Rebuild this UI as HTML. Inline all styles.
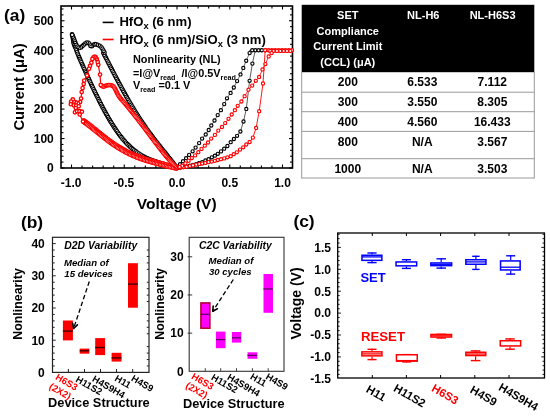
<!DOCTYPE html>
<html><head><meta charset="utf-8"><style>
html,body{margin:0;padding:0;background:#fff;overflow:hidden;}
svg{display:block;font-family:"Liberation Sans", sans-serif;will-change:transform;}
</style></head><body>
<svg width="550" height="418" viewBox="0 0 550 418">
<rect x="0" y="0" width="550" height="418" fill="#fff"/>
<rect x="61.00" y="6.00" width="231.50" height="162.00" fill="none" stroke="#000" stroke-width="1.6" />
<line x1="71.50" y1="168.00" x2="71.50" y2="164.50" stroke="#000" stroke-width="1.1" />
<line x1="71.50" y1="6.00" x2="71.50" y2="9.50" stroke="#000" stroke-width="1.1" />
<line x1="82.05" y1="168.00" x2="82.05" y2="165.50" stroke="#000" stroke-width="1.1" />
<line x1="82.05" y1="6.00" x2="82.05" y2="8.50" stroke="#000" stroke-width="1.1" />
<line x1="92.60" y1="168.00" x2="92.60" y2="165.50" stroke="#000" stroke-width="1.1" />
<line x1="92.60" y1="6.00" x2="92.60" y2="8.50" stroke="#000" stroke-width="1.1" />
<line x1="103.15" y1="168.00" x2="103.15" y2="165.50" stroke="#000" stroke-width="1.1" />
<line x1="103.15" y1="6.00" x2="103.15" y2="8.50" stroke="#000" stroke-width="1.1" />
<line x1="113.70" y1="168.00" x2="113.70" y2="165.50" stroke="#000" stroke-width="1.1" />
<line x1="113.70" y1="6.00" x2="113.70" y2="8.50" stroke="#000" stroke-width="1.1" />
<line x1="124.25" y1="168.00" x2="124.25" y2="164.50" stroke="#000" stroke-width="1.1" />
<line x1="124.25" y1="6.00" x2="124.25" y2="9.50" stroke="#000" stroke-width="1.1" />
<line x1="134.80" y1="168.00" x2="134.80" y2="165.50" stroke="#000" stroke-width="1.1" />
<line x1="134.80" y1="6.00" x2="134.80" y2="8.50" stroke="#000" stroke-width="1.1" />
<line x1="145.35" y1="168.00" x2="145.35" y2="165.50" stroke="#000" stroke-width="1.1" />
<line x1="145.35" y1="6.00" x2="145.35" y2="8.50" stroke="#000" stroke-width="1.1" />
<line x1="155.90" y1="168.00" x2="155.90" y2="165.50" stroke="#000" stroke-width="1.1" />
<line x1="155.90" y1="6.00" x2="155.90" y2="8.50" stroke="#000" stroke-width="1.1" />
<line x1="166.45" y1="168.00" x2="166.45" y2="165.50" stroke="#000" stroke-width="1.1" />
<line x1="166.45" y1="6.00" x2="166.45" y2="8.50" stroke="#000" stroke-width="1.1" />
<line x1="177.00" y1="168.00" x2="177.00" y2="164.50" stroke="#000" stroke-width="1.1" />
<line x1="177.00" y1="6.00" x2="177.00" y2="9.50" stroke="#000" stroke-width="1.1" />
<line x1="187.55" y1="168.00" x2="187.55" y2="165.50" stroke="#000" stroke-width="1.1" />
<line x1="187.55" y1="6.00" x2="187.55" y2="8.50" stroke="#000" stroke-width="1.1" />
<line x1="198.10" y1="168.00" x2="198.10" y2="165.50" stroke="#000" stroke-width="1.1" />
<line x1="198.10" y1="6.00" x2="198.10" y2="8.50" stroke="#000" stroke-width="1.1" />
<line x1="208.65" y1="168.00" x2="208.65" y2="165.50" stroke="#000" stroke-width="1.1" />
<line x1="208.65" y1="6.00" x2="208.65" y2="8.50" stroke="#000" stroke-width="1.1" />
<line x1="219.20" y1="168.00" x2="219.20" y2="165.50" stroke="#000" stroke-width="1.1" />
<line x1="219.20" y1="6.00" x2="219.20" y2="8.50" stroke="#000" stroke-width="1.1" />
<line x1="229.75" y1="168.00" x2="229.75" y2="164.50" stroke="#000" stroke-width="1.1" />
<line x1="229.75" y1="6.00" x2="229.75" y2="9.50" stroke="#000" stroke-width="1.1" />
<line x1="240.30" y1="168.00" x2="240.30" y2="165.50" stroke="#000" stroke-width="1.1" />
<line x1="240.30" y1="6.00" x2="240.30" y2="8.50" stroke="#000" stroke-width="1.1" />
<line x1="250.85" y1="168.00" x2="250.85" y2="165.50" stroke="#000" stroke-width="1.1" />
<line x1="250.85" y1="6.00" x2="250.85" y2="8.50" stroke="#000" stroke-width="1.1" />
<line x1="261.40" y1="168.00" x2="261.40" y2="165.50" stroke="#000" stroke-width="1.1" />
<line x1="261.40" y1="6.00" x2="261.40" y2="8.50" stroke="#000" stroke-width="1.1" />
<line x1="271.95" y1="168.00" x2="271.95" y2="165.50" stroke="#000" stroke-width="1.1" />
<line x1="271.95" y1="6.00" x2="271.95" y2="8.50" stroke="#000" stroke-width="1.1" />
<line x1="282.50" y1="168.00" x2="282.50" y2="164.50" stroke="#000" stroke-width="1.1" />
<line x1="282.50" y1="6.00" x2="282.50" y2="9.50" stroke="#000" stroke-width="1.1" />
<line x1="61.00" y1="168.00" x2="64.50" y2="168.00" stroke="#000" stroke-width="1.1" />
<line x1="292.50" y1="168.00" x2="289.00" y2="168.00" stroke="#000" stroke-width="1.1" />
<line x1="61.00" y1="162.11" x2="63.50" y2="162.11" stroke="#000" stroke-width="1.1" />
<line x1="292.50" y1="162.11" x2="290.00" y2="162.11" stroke="#000" stroke-width="1.1" />
<line x1="61.00" y1="156.22" x2="63.50" y2="156.22" stroke="#000" stroke-width="1.1" />
<line x1="292.50" y1="156.22" x2="290.00" y2="156.22" stroke="#000" stroke-width="1.1" />
<line x1="61.00" y1="150.33" x2="63.50" y2="150.33" stroke="#000" stroke-width="1.1" />
<line x1="292.50" y1="150.33" x2="290.00" y2="150.33" stroke="#000" stroke-width="1.1" />
<line x1="61.00" y1="144.44" x2="63.50" y2="144.44" stroke="#000" stroke-width="1.1" />
<line x1="292.50" y1="144.44" x2="290.00" y2="144.44" stroke="#000" stroke-width="1.1" />
<line x1="61.00" y1="138.55" x2="64.50" y2="138.55" stroke="#000" stroke-width="1.1" />
<line x1="292.50" y1="138.55" x2="289.00" y2="138.55" stroke="#000" stroke-width="1.1" />
<line x1="61.00" y1="132.66" x2="63.50" y2="132.66" stroke="#000" stroke-width="1.1" />
<line x1="292.50" y1="132.66" x2="290.00" y2="132.66" stroke="#000" stroke-width="1.1" />
<line x1="61.00" y1="126.77" x2="63.50" y2="126.77" stroke="#000" stroke-width="1.1" />
<line x1="292.50" y1="126.77" x2="290.00" y2="126.77" stroke="#000" stroke-width="1.1" />
<line x1="61.00" y1="120.88" x2="63.50" y2="120.88" stroke="#000" stroke-width="1.1" />
<line x1="292.50" y1="120.88" x2="290.00" y2="120.88" stroke="#000" stroke-width="1.1" />
<line x1="61.00" y1="114.99" x2="63.50" y2="114.99" stroke="#000" stroke-width="1.1" />
<line x1="292.50" y1="114.99" x2="290.00" y2="114.99" stroke="#000" stroke-width="1.1" />
<line x1="61.00" y1="109.10" x2="64.50" y2="109.10" stroke="#000" stroke-width="1.1" />
<line x1="292.50" y1="109.10" x2="289.00" y2="109.10" stroke="#000" stroke-width="1.1" />
<line x1="61.00" y1="103.21" x2="63.50" y2="103.21" stroke="#000" stroke-width="1.1" />
<line x1="292.50" y1="103.21" x2="290.00" y2="103.21" stroke="#000" stroke-width="1.1" />
<line x1="61.00" y1="97.32" x2="63.50" y2="97.32" stroke="#000" stroke-width="1.1" />
<line x1="292.50" y1="97.32" x2="290.00" y2="97.32" stroke="#000" stroke-width="1.1" />
<line x1="61.00" y1="91.43" x2="63.50" y2="91.43" stroke="#000" stroke-width="1.1" />
<line x1="292.50" y1="91.43" x2="290.00" y2="91.43" stroke="#000" stroke-width="1.1" />
<line x1="61.00" y1="85.54" x2="63.50" y2="85.54" stroke="#000" stroke-width="1.1" />
<line x1="292.50" y1="85.54" x2="290.00" y2="85.54" stroke="#000" stroke-width="1.1" />
<line x1="61.00" y1="79.65" x2="64.50" y2="79.65" stroke="#000" stroke-width="1.1" />
<line x1="292.50" y1="79.65" x2="289.00" y2="79.65" stroke="#000" stroke-width="1.1" />
<line x1="61.00" y1="73.76" x2="63.50" y2="73.76" stroke="#000" stroke-width="1.1" />
<line x1="292.50" y1="73.76" x2="290.00" y2="73.76" stroke="#000" stroke-width="1.1" />
<line x1="61.00" y1="67.87" x2="63.50" y2="67.87" stroke="#000" stroke-width="1.1" />
<line x1="292.50" y1="67.87" x2="290.00" y2="67.87" stroke="#000" stroke-width="1.1" />
<line x1="61.00" y1="61.98" x2="63.50" y2="61.98" stroke="#000" stroke-width="1.1" />
<line x1="292.50" y1="61.98" x2="290.00" y2="61.98" stroke="#000" stroke-width="1.1" />
<line x1="61.00" y1="56.09" x2="63.50" y2="56.09" stroke="#000" stroke-width="1.1" />
<line x1="292.50" y1="56.09" x2="290.00" y2="56.09" stroke="#000" stroke-width="1.1" />
<line x1="61.00" y1="50.20" x2="64.50" y2="50.20" stroke="#000" stroke-width="1.1" />
<line x1="292.50" y1="50.20" x2="289.00" y2="50.20" stroke="#000" stroke-width="1.1" />
<line x1="61.00" y1="44.31" x2="63.50" y2="44.31" stroke="#000" stroke-width="1.1" />
<line x1="292.50" y1="44.31" x2="290.00" y2="44.31" stroke="#000" stroke-width="1.1" />
<line x1="61.00" y1="38.42" x2="63.50" y2="38.42" stroke="#000" stroke-width="1.1" />
<line x1="292.50" y1="38.42" x2="290.00" y2="38.42" stroke="#000" stroke-width="1.1" />
<line x1="61.00" y1="32.53" x2="63.50" y2="32.53" stroke="#000" stroke-width="1.1" />
<line x1="292.50" y1="32.53" x2="290.00" y2="32.53" stroke="#000" stroke-width="1.1" />
<line x1="61.00" y1="26.64" x2="63.50" y2="26.64" stroke="#000" stroke-width="1.1" />
<line x1="292.50" y1="26.64" x2="290.00" y2="26.64" stroke="#000" stroke-width="1.1" />
<line x1="61.00" y1="20.75" x2="64.50" y2="20.75" stroke="#000" stroke-width="1.1" />
<line x1="292.50" y1="20.75" x2="289.00" y2="20.75" stroke="#000" stroke-width="1.1" />
<line x1="61.00" y1="14.86" x2="63.50" y2="14.86" stroke="#000" stroke-width="1.1" />
<line x1="292.50" y1="14.86" x2="290.00" y2="14.86" stroke="#000" stroke-width="1.1" />
<line x1="61.00" y1="8.97" x2="63.50" y2="8.97" stroke="#000" stroke-width="1.1" />
<line x1="292.50" y1="8.97" x2="290.00" y2="8.97" stroke="#000" stroke-width="1.1" />
<text x="53.80" y="172.30" font-size="12" font-weight="bold" text-anchor="end" fill="#000" >0</text>
<text x="53.80" y="142.85" font-size="12" font-weight="bold" text-anchor="end" fill="#000" >100</text>
<text x="53.80" y="113.40" font-size="12" font-weight="bold" text-anchor="end" fill="#000" >200</text>
<text x="53.80" y="83.95" font-size="12" font-weight="bold" text-anchor="end" fill="#000" >300</text>
<text x="53.80" y="54.50" font-size="12" font-weight="bold" text-anchor="end" fill="#000" >400</text>
<text x="53.80" y="25.05" font-size="12" font-weight="bold" text-anchor="end" fill="#000" >500</text>
<text x="71.20" y="186.60" font-size="12" font-weight="bold" text-anchor="middle" fill="#000" >-1.0</text>
<text x="123.95" y="186.60" font-size="12" font-weight="bold" text-anchor="middle" fill="#000" >-0.5</text>
<text x="177.00" y="186.60" font-size="12" font-weight="bold" text-anchor="middle" fill="#000" >0.0</text>
<text x="229.75" y="186.60" font-size="12" font-weight="bold" text-anchor="middle" fill="#000" >0.5</text>
<text x="282.50" y="186.60" font-size="12" font-weight="bold" text-anchor="middle" fill="#000" >1.0</text>
<text x="4.00" y="21.00" font-size="17.4" font-weight="bold" text-anchor="start" fill="#000" >(a)</text>
<text transform="translate(23.6,87) rotate(-90)" font-size="14.8" font-weight="bold" text-anchor="middle" fill="#000">Current (μA)</text>
<text x="176.70" y="209.10" font-size="15.5" font-weight="bold" text-anchor="middle" fill="#000" >Voltage (V)</text>
<line x1="102.70" y1="22.40" x2="113.60" y2="22.40" stroke="#000" stroke-width="1.6" />
<text x="119.4" y="25.8" font-size="13.1" font-weight="bold" fill="#000">HfO<tspan font-size="9.3" dy="3.2">x</tspan><tspan dy="-3.2"> (6 nm)</tspan></text>
<line x1="102.70" y1="39.50" x2="113.60" y2="39.50" stroke="#ff0000" stroke-width="1.6" />
<text x="119.4" y="43.6" font-size="13.1" font-weight="bold" fill="#000">HfO<tspan font-size="9.3" dy="3.2">x</tspan><tspan dy="-3.2"> (6 nm)/SiO</tspan><tspan font-size="9.3" dy="3.2">x</tspan><tspan dy="-3.2"> (3 nm)</tspan></text>
<text x="133" y="62.6" font-size="10.9" font-weight="bold" fill="#000">Nonlinearity (NL)</text>
<text x="133" y="77" font-size="10.9" font-weight="bold" fill="#000">=I@V<tspan font-size="7.2" dy="2.5">read</tspan><tspan dy="-2.5">&#160; /I@0.5V</tspan><tspan font-size="7.2" dy="2.5">read</tspan></text>
<text x="133" y="89" font-size="10.9" font-weight="bold" fill="#000">V<tspan font-size="7.2" dy="2.5">read</tspan><tspan dy="-2.5"> =0.1 V</tspan></text>
<g fill="#fff" stroke="#000000" stroke-width="1.15"><circle cx="72.00" cy="34.40" r="1.8"/><circle cx="72.49" cy="36.18" r="1.8"/><circle cx="72.83" cy="38.00" r="1.8"/><circle cx="73.13" cy="39.83" r="1.8"/><circle cx="73.39" cy="41.66" r="1.8"/><circle cx="73.70" cy="43.48" r="1.8"/><circle cx="74.30" cy="45.23" r="1.8"/><circle cx="75.06" cy="46.91" r="1.8"/><circle cx="75.83" cy="48.59" r="1.8"/><circle cx="76.43" cy="50.34" r="1.8"/><circle cx="77.03" cy="52.09" r="1.8"/><circle cx="77.72" cy="53.80" r="1.8"/><circle cx="78.41" cy="55.52" r="1.8"/><circle cx="79.12" cy="57.23" r="1.8"/><circle cx="79.84" cy="58.93" r="1.8"/><circle cx="80.58" cy="60.63" r="1.8"/><circle cx="81.32" cy="62.32" r="1.8"/><circle cx="82.07" cy="64.02" r="1.8"/><circle cx="82.81" cy="65.71" r="1.8"/><circle cx="83.56" cy="67.40" r="1.8"/><circle cx="84.31" cy="69.09" r="1.8"/><circle cx="85.06" cy="70.78" r="1.8"/><circle cx="85.82" cy="72.47" r="1.8"/><circle cx="86.57" cy="74.16" r="1.8"/><circle cx="87.34" cy="75.85" r="1.8"/><circle cx="88.10" cy="77.53" r="1.8"/><circle cx="88.87" cy="79.21" r="1.8"/><circle cx="89.64" cy="80.90" r="1.8"/><circle cx="90.42" cy="82.58" r="1.8"/><circle cx="91.20" cy="84.25" r="1.8"/><circle cx="91.98" cy="85.93" r="1.8"/><circle cx="92.77" cy="87.60" r="1.8"/><circle cx="93.57" cy="89.27" r="1.8"/><circle cx="94.37" cy="90.94" r="1.8"/><circle cx="95.17" cy="92.60" r="1.8"/><circle cx="95.99" cy="94.26" r="1.8"/><circle cx="96.81" cy="95.92" r="1.8"/><circle cx="97.63" cy="97.58" r="1.8"/><circle cx="98.46" cy="99.24" r="1.8"/><circle cx="99.28" cy="100.89" r="1.8"/><circle cx="100.11" cy="102.54" r="1.8"/><circle cx="100.95" cy="104.19" r="1.8"/><circle cx="101.80" cy="105.84" r="1.8"/><circle cx="102.66" cy="107.48" r="1.8"/><circle cx="103.53" cy="109.11" r="1.8"/><circle cx="104.40" cy="110.74" r="1.8"/><circle cx="105.29" cy="112.36" r="1.8"/><circle cx="106.18" cy="113.98" r="1.8"/><circle cx="107.09" cy="115.59" r="1.8"/><circle cx="108.01" cy="117.20" r="1.8"/><circle cx="108.94" cy="118.80" r="1.8"/><circle cx="109.89" cy="120.39" r="1.8"/><circle cx="110.84" cy="121.97" r="1.8"/><circle cx="111.82" cy="123.55" r="1.8"/><circle cx="112.80" cy="125.11" r="1.8"/><circle cx="113.80" cy="126.67" r="1.8"/><circle cx="114.82" cy="128.21" r="1.8"/><circle cx="115.86" cy="129.74" r="1.8"/><circle cx="116.91" cy="131.26" r="1.8"/><circle cx="117.98" cy="132.77" r="1.8"/><circle cx="119.07" cy="134.27" r="1.8"/><circle cx="120.18" cy="135.75" r="1.8"/><circle cx="121.32" cy="137.21" r="1.8"/><circle cx="122.47" cy="138.65" r="1.8"/><circle cx="123.65" cy="140.08" r="1.8"/><circle cx="124.87" cy="141.47" r="1.8"/><circle cx="126.12" cy="142.83" r="1.8"/><circle cx="127.41" cy="144.16" r="1.8"/><circle cx="128.73" cy="145.46" r="1.8"/><circle cx="130.07" cy="146.73" r="1.8"/><circle cx="131.45" cy="147.97" r="1.8"/><circle cx="132.85" cy="149.17" r="1.8"/><circle cx="134.29" cy="150.34" r="1.8"/><circle cx="135.76" cy="151.46" r="1.8"/><circle cx="137.26" cy="152.54" r="1.8"/><circle cx="138.79" cy="153.58" r="1.8"/><circle cx="140.35" cy="154.58" r="1.8"/><circle cx="141.94" cy="155.52" r="1.8"/><circle cx="143.55" cy="156.42" r="1.8"/><circle cx="145.20" cy="157.27" r="1.8"/><circle cx="146.87" cy="158.07" r="1.8"/><circle cx="148.55" cy="158.83" r="1.8"/><circle cx="150.26" cy="159.54" r="1.8"/><circle cx="151.99" cy="160.21" r="1.8"/><circle cx="153.72" cy="160.84" r="1.8"/><circle cx="155.47" cy="161.45" r="1.8"/><circle cx="157.23" cy="162.03" r="1.8"/><circle cx="158.99" cy="162.59" r="1.8"/><circle cx="160.76" cy="163.14" r="1.8"/><circle cx="162.53" cy="163.68" r="1.8"/><circle cx="164.29" cy="164.23" r="1.8"/><circle cx="166.05" cy="164.80" r="1.8"/><circle cx="167.85" cy="165.23" r="1.8"/><circle cx="169.65" cy="165.65" r="1.8"/><circle cx="171.44" cy="166.12" r="1.8"/><circle cx="173.22" cy="166.64" r="1.8"/><circle cx="174.97" cy="167.22" r="1.8"/><circle cx="176.70" cy="167.88" r="1.8"/></g>
<g fill="#fff" stroke="#000000" stroke-width="1.15"><circle cx="177.00" cy="168.00" r="1.8"/><circle cx="175.89" cy="166.52" r="1.8"/><circle cx="174.78" cy="165.04" r="1.8"/><circle cx="173.66" cy="163.57" r="1.8"/><circle cx="172.52" cy="162.11" r="1.8"/><circle cx="171.38" cy="160.65" r="1.8"/><circle cx="170.24" cy="159.20" r="1.8"/><circle cx="169.09" cy="157.75" r="1.8"/><circle cx="167.93" cy="156.31" r="1.8"/><circle cx="166.77" cy="154.86" r="1.8"/><circle cx="165.61" cy="153.42" r="1.8"/><circle cx="164.45" cy="151.98" r="1.8"/><circle cx="163.29" cy="150.54" r="1.8"/><circle cx="162.13" cy="149.10" r="1.8"/><circle cx="160.98" cy="147.65" r="1.8"/><circle cx="159.82" cy="146.21" r="1.8"/><circle cx="158.67" cy="144.76" r="1.8"/><circle cx="157.53" cy="143.31" r="1.8"/><circle cx="156.39" cy="141.85" r="1.8"/><circle cx="155.25" cy="140.39" r="1.8"/><circle cx="154.13" cy="138.92" r="1.8"/><circle cx="153.00" cy="137.45" r="1.8"/><circle cx="151.89" cy="135.97" r="1.8"/><circle cx="150.79" cy="134.49" r="1.8"/><circle cx="149.69" cy="133.00" r="1.8"/><circle cx="148.60" cy="131.50" r="1.8"/><circle cx="147.52" cy="130.00" r="1.8"/><circle cx="146.44" cy="128.50" r="1.8"/><circle cx="145.38" cy="126.98" r="1.8"/><circle cx="144.33" cy="125.46" r="1.8"/><circle cx="143.28" cy="123.94" r="1.8"/><circle cx="142.24" cy="122.40" r="1.8"/><circle cx="141.21" cy="120.87" r="1.8"/><circle cx="140.19" cy="119.32" r="1.8"/><circle cx="139.18" cy="117.77" r="1.8"/><circle cx="138.18" cy="116.22" r="1.8"/><circle cx="137.19" cy="114.66" r="1.8"/><circle cx="136.20" cy="113.09" r="1.8"/><circle cx="135.22" cy="111.52" r="1.8"/><circle cx="134.25" cy="109.95" r="1.8"/><circle cx="133.29" cy="108.37" r="1.8"/><circle cx="132.34" cy="106.78" r="1.8"/><circle cx="131.39" cy="105.20" r="1.8"/><circle cx="130.45" cy="103.60" r="1.8"/><circle cx="129.51" cy="102.01" r="1.8"/><circle cx="128.58" cy="100.40" r="1.8"/><circle cx="127.66" cy="98.80" r="1.8"/><circle cx="126.75" cy="97.19" r="1.8"/><circle cx="125.84" cy="95.58" r="1.8"/><circle cx="124.94" cy="93.97" r="1.8"/><circle cx="124.04" cy="92.35" r="1.8"/><circle cx="123.14" cy="90.73" r="1.8"/><circle cx="122.25" cy="89.11" r="1.8"/><circle cx="121.37" cy="87.48" r="1.8"/><circle cx="120.49" cy="85.85" r="1.8"/><circle cx="119.62" cy="84.23" r="1.8"/><circle cx="118.74" cy="82.59" r="1.8"/><circle cx="117.87" cy="80.96" r="1.8"/><circle cx="117.01" cy="79.32" r="1.8"/><circle cx="116.15" cy="77.69" r="1.8"/><circle cx="115.29" cy="76.05" r="1.8"/><circle cx="114.43" cy="74.41" r="1.8"/><circle cx="113.58" cy="72.77" r="1.8"/><circle cx="112.72" cy="71.13" r="1.8"/><circle cx="111.87" cy="69.49" r="1.8"/><circle cx="111.02" cy="67.84" r="1.8"/><circle cx="110.17" cy="66.20" r="1.8"/><circle cx="109.32" cy="64.56" r="1.8"/><circle cx="108.47" cy="62.91" r="1.8"/><circle cx="107.63" cy="61.27" r="1.8"/><circle cx="106.78" cy="59.62" r="1.8"/><circle cx="105.93" cy="57.98" r="1.8"/><circle cx="105.08" cy="56.34" r="1.8"/><circle cx="104.23" cy="54.69" r="1.8"/><circle cx="103.37" cy="53.05" r="1.8"/></g>
<g fill="#fff" stroke="#000000" stroke-width="1.15"><circle cx="104.50" cy="52.60" r="1.75"/><circle cx="103.60" cy="50.93" r="1.75"/><circle cx="102.67" cy="49.27" r="1.75"/><circle cx="101.63" cy="47.68" r="1.75"/><circle cx="100.35" cy="46.28" r="1.75"/><circle cx="98.70" cy="45.35" r="1.75"/><circle cx="96.93" cy="44.67" r="1.75"/><circle cx="95.10" cy="44.19" r="1.75"/><circle cx="93.34" cy="44.84" r="1.75"/><circle cx="91.96" cy="46.13" r="1.75"/><circle cx="90.55" cy="45.94" r="1.75"/><circle cx="89.65" cy="44.28" r="1.75"/><circle cx="88.57" cy="42.76" r="1.75"/><circle cx="86.77" cy="42.56" r="1.75"/><circle cx="85.20" cy="43.62" r="1.75"/><circle cx="83.76" cy="44.86" r="1.75"/><circle cx="82.35" cy="46.13" r="1.75"/><circle cx="80.95" cy="47.42" r="1.75"/><circle cx="79.24" cy="47.98" r="1.75"/><circle cx="77.75" cy="46.85" r="1.75"/><circle cx="76.55" cy="45.38" r="1.75"/><circle cx="75.71" cy="43.68" r="1.75"/><circle cx="75.06" cy="41.89" r="1.75"/><circle cx="74.43" cy="40.10" r="1.75"/><circle cx="73.76" cy="38.32" r="1.75"/><circle cx="73.03" cy="36.57" r="1.75"/><circle cx="72.22" cy="34.85" r="1.75"/></g>
<g fill="#fff" stroke="#ff0000" stroke-width="1.15"><circle cx="83.63" cy="120.32" r="1.75"/><circle cx="84.86" cy="121.18" r="1.75"/><circle cx="86.08" cy="122.05" r="1.75"/><circle cx="87.29" cy="122.94" r="1.75"/><circle cx="88.49" cy="123.84" r="1.75"/><circle cx="89.68" cy="124.75" r="1.75"/><circle cx="90.87" cy="125.67" r="1.75"/><circle cx="92.05" cy="126.59" r="1.75"/><circle cx="93.23" cy="127.52" r="1.75"/><circle cx="94.40" cy="128.45" r="1.75"/><circle cx="95.58" cy="129.39" r="1.75"/><circle cx="96.75" cy="130.33" r="1.75"/><circle cx="97.91" cy="131.27" r="1.75"/><circle cx="99.08" cy="132.21" r="1.75"/><circle cx="100.25" cy="133.15" r="1.75"/><circle cx="101.42" cy="134.09" r="1.75"/><circle cx="102.59" cy="135.03" r="1.75"/><circle cx="103.76" cy="135.96" r="1.75"/><circle cx="104.94" cy="136.89" r="1.75"/><circle cx="106.12" cy="137.82" r="1.75"/><circle cx="107.30" cy="138.75" r="1.75"/><circle cx="108.48" cy="139.66" r="1.75"/><circle cx="109.68" cy="140.57" r="1.75"/><circle cx="110.91" cy="141.43" r="1.75"/><circle cx="112.15" cy="142.28" r="1.75"/><circle cx="113.39" cy="143.12" r="1.75"/><circle cx="114.64" cy="143.95" r="1.75"/><circle cx="115.89" cy="144.77" r="1.75"/><circle cx="117.15" cy="145.58" r="1.75"/><circle cx="118.43" cy="146.38" r="1.75"/><circle cx="119.70" cy="147.16" r="1.75"/><circle cx="120.99" cy="147.93" r="1.75"/><circle cx="122.29" cy="148.69" r="1.75"/><circle cx="123.59" cy="149.43" r="1.75"/><circle cx="124.91" cy="150.15" r="1.75"/><circle cx="126.23" cy="150.86" r="1.75"/><circle cx="127.56" cy="151.55" r="1.75"/><circle cx="128.90" cy="152.22" r="1.75"/><circle cx="130.25" cy="152.88" r="1.75"/><circle cx="131.61" cy="153.51" r="1.75"/><circle cx="132.98" cy="154.13" r="1.75"/><circle cx="134.35" cy="154.73" r="1.75"/><circle cx="135.74" cy="155.31" r="1.75"/><circle cx="137.13" cy="155.86" r="1.75"/><circle cx="138.53" cy="156.40" r="1.75"/><circle cx="139.93" cy="156.93" r="1.75"/><circle cx="141.35" cy="157.43" r="1.75"/><circle cx="142.77" cy="157.92" r="1.75"/><circle cx="144.19" cy="158.39" r="1.75"/><circle cx="145.62" cy="158.84" r="1.75"/><circle cx="147.06" cy="159.28" r="1.75"/><circle cx="148.49" cy="159.70" r="1.75"/><circle cx="149.94" cy="160.11" r="1.75"/><circle cx="151.38" cy="160.52" r="1.75"/><circle cx="152.83" cy="160.91" r="1.75"/><circle cx="154.28" cy="161.30" r="1.75"/><circle cx="155.73" cy="161.68" r="1.75"/><circle cx="157.18" cy="162.06" r="1.75"/><circle cx="158.63" cy="162.45" r="1.75"/><circle cx="160.08" cy="162.83" r="1.75"/><circle cx="161.53" cy="163.22" r="1.75"/><circle cx="162.97" cy="163.62" r="1.75"/><circle cx="164.42" cy="164.02" r="1.75"/><circle cx="165.86" cy="164.45" r="1.75"/><circle cx="167.32" cy="164.77" r="1.75"/><circle cx="168.80" cy="165.04" r="1.75"/><circle cx="170.27" cy="165.33" r="1.75"/><circle cx="171.73" cy="165.64" r="1.75"/><circle cx="173.19" cy="166.00" r="1.75"/><circle cx="174.64" cy="166.38" r="1.75"/><circle cx="176.08" cy="166.81" r="1.75"/></g>
<g fill="#fff" stroke="#ff0000" stroke-width="1.15"><circle cx="83.63" cy="122.12" r="1.75"/><circle cx="84.86" cy="122.98" r="1.75"/><circle cx="86.08" cy="123.85" r="1.75"/><circle cx="87.29" cy="124.74" r="1.75"/><circle cx="88.49" cy="125.64" r="1.75"/><circle cx="89.68" cy="126.55" r="1.75"/><circle cx="90.87" cy="127.47" r="1.75"/><circle cx="92.05" cy="128.39" r="1.75"/><circle cx="93.23" cy="129.32" r="1.75"/><circle cx="94.40" cy="130.25" r="1.75"/><circle cx="95.58" cy="131.19" r="1.75"/><circle cx="96.75" cy="132.13" r="1.75"/><circle cx="97.91" cy="133.07" r="1.75"/><circle cx="99.08" cy="134.01" r="1.75"/><circle cx="100.25" cy="134.95" r="1.75"/><circle cx="101.42" cy="135.89" r="1.75"/><circle cx="102.59" cy="136.83" r="1.75"/><circle cx="103.76" cy="137.76" r="1.75"/><circle cx="104.94" cy="138.69" r="1.75"/><circle cx="106.12" cy="139.62" r="1.75"/><circle cx="107.30" cy="140.55" r="1.75"/><circle cx="108.48" cy="141.46" r="1.75"/><circle cx="109.68" cy="142.37" r="1.75"/><circle cx="110.91" cy="143.23" r="1.75"/><circle cx="112.15" cy="144.08" r="1.75"/><circle cx="113.39" cy="144.92" r="1.75"/><circle cx="114.64" cy="145.75" r="1.75"/><circle cx="115.89" cy="146.57" r="1.75"/><circle cx="117.15" cy="147.38" r="1.75"/><circle cx="118.43" cy="148.18" r="1.75"/><circle cx="119.70" cy="148.96" r="1.75"/><circle cx="120.99" cy="149.73" r="1.75"/><circle cx="122.29" cy="150.49" r="1.75"/><circle cx="123.59" cy="151.23" r="1.75"/><circle cx="124.91" cy="151.95" r="1.75"/><circle cx="126.23" cy="152.66" r="1.75"/><circle cx="127.56" cy="153.35" r="1.75"/><circle cx="128.90" cy="154.02" r="1.75"/><circle cx="130.25" cy="154.68" r="1.75"/><circle cx="131.61" cy="155.31" r="1.75"/><circle cx="132.98" cy="155.93" r="1.75"/><circle cx="134.35" cy="156.53" r="1.75"/><circle cx="135.74" cy="157.11" r="1.75"/><circle cx="137.13" cy="157.66" r="1.75"/><circle cx="138.53" cy="158.20" r="1.75"/><circle cx="139.93" cy="158.73" r="1.75"/><circle cx="141.35" cy="159.23" r="1.75"/><circle cx="142.77" cy="159.72" r="1.75"/><circle cx="144.19" cy="160.19" r="1.75"/><circle cx="145.62" cy="160.64" r="1.75"/><circle cx="147.06" cy="161.08" r="1.75"/><circle cx="148.49" cy="161.50" r="1.75"/><circle cx="149.94" cy="161.91" r="1.75"/><circle cx="151.38" cy="162.32" r="1.75"/><circle cx="152.83" cy="162.71" r="1.75"/><circle cx="154.28" cy="163.10" r="1.75"/><circle cx="155.73" cy="163.48" r="1.75"/><circle cx="157.18" cy="163.86" r="1.75"/><circle cx="158.63" cy="164.25" r="1.75"/><circle cx="160.08" cy="164.63" r="1.75"/><circle cx="161.53" cy="165.02" r="1.75"/><circle cx="162.97" cy="165.42" r="1.75"/><circle cx="164.42" cy="165.82" r="1.75"/><circle cx="165.86" cy="166.25" r="1.75"/><circle cx="167.32" cy="166.57" r="1.75"/><circle cx="168.80" cy="166.84" r="1.75"/><circle cx="170.27" cy="167.13" r="1.75"/><circle cx="171.73" cy="167.44" r="1.75"/><circle cx="173.19" cy="167.80" r="1.75"/><circle cx="174.64" cy="168.18" r="1.75"/><circle cx="176.08" cy="168.61" r="1.75"/></g>
<g fill="#fff" stroke="#ff0000" stroke-width="1.15"><circle cx="177.00" cy="168.00" r="1.75"/><circle cx="175.91" cy="166.97" r="1.75"/><circle cx="174.83" cy="165.93" r="1.75"/><circle cx="173.78" cy="164.86" r="1.75"/><circle cx="172.74" cy="163.78" r="1.75"/><circle cx="171.71" cy="162.68" r="1.75"/><circle cx="170.70" cy="161.58" r="1.75"/><circle cx="169.70" cy="160.46" r="1.75"/><circle cx="168.71" cy="159.33" r="1.75"/><circle cx="167.73" cy="158.19" r="1.75"/><circle cx="166.77" cy="157.05" r="1.75"/><circle cx="165.81" cy="155.89" r="1.75"/><circle cx="164.85" cy="154.74" r="1.75"/><circle cx="163.91" cy="153.57" r="1.75"/><circle cx="162.97" cy="152.40" r="1.75"/><circle cx="162.04" cy="151.23" r="1.75"/><circle cx="161.11" cy="150.05" r="1.75"/><circle cx="160.18" cy="148.87" r="1.75"/><circle cx="159.26" cy="147.68" r="1.75"/><circle cx="158.35" cy="146.50" r="1.75"/><circle cx="157.43" cy="145.31" r="1.75"/><circle cx="156.52" cy="144.11" r="1.75"/><circle cx="155.61" cy="142.92" r="1.75"/><circle cx="154.71" cy="141.72" r="1.75"/><circle cx="153.80" cy="140.53" r="1.75"/><circle cx="152.90" cy="139.33" r="1.75"/><circle cx="152.00" cy="138.13" r="1.75"/><circle cx="151.10" cy="136.93" r="1.75"/><circle cx="150.19" cy="135.74" r="1.75"/><circle cx="149.29" cy="134.54" r="1.75"/><circle cx="148.39" cy="133.34" r="1.75"/><circle cx="147.49" cy="132.14" r="1.75"/><circle cx="146.58" cy="130.94" r="1.75"/><circle cx="145.68" cy="129.75" r="1.75"/><circle cx="144.77" cy="128.55" r="1.75"/><circle cx="143.87" cy="127.36" r="1.75"/><circle cx="142.96" cy="126.16" r="1.75"/><circle cx="142.05" cy="124.97" r="1.75"/><circle cx="141.14" cy="123.78" r="1.75"/><circle cx="140.22" cy="122.59" r="1.75"/><circle cx="139.31" cy="121.40" r="1.75"/><circle cx="138.39" cy="120.22" r="1.75"/><circle cx="137.46" cy="119.03" r="1.75"/><circle cx="136.54" cy="117.85" r="1.75"/><circle cx="135.61" cy="116.67" r="1.75"/><circle cx="134.68" cy="115.50" r="1.75"/><circle cx="133.75" cy="114.32" r="1.75"/><circle cx="132.81" cy="113.15" r="1.75"/><circle cx="131.87" cy="111.98" r="1.75"/><circle cx="130.93" cy="110.81" r="1.75"/><circle cx="129.99" cy="109.65" r="1.75"/><circle cx="129.04" cy="108.49" r="1.75"/><circle cx="128.08" cy="107.33" r="1.75"/><circle cx="127.13" cy="106.17" r="1.75"/><circle cx="126.17" cy="105.02" r="1.75"/><circle cx="125.21" cy="103.87" r="1.75"/><circle cx="124.24" cy="102.72" r="1.75"/><circle cx="123.27" cy="101.57" r="1.75"/><circle cx="122.30" cy="100.43" r="1.75"/><circle cx="121.33" cy="99.29" r="1.75"/></g>
<polyline points="120.80,98.70 118.30,95.40 116.80,92.50 115.00,88.60 113.20,86.00 110.40,85.00 106.80,85.30 103.20,86.80 100.70,85.00 100.00,74.60 98.30,64.80 97.70,61.90 96.80,59.00 95.80,57.40 94.70,56.60 93.50,57.40 92.40,58.90 91.40,62.70 90.00,65.90 89.00,68.80 87.10,75.40 84.20,80.60 83.70,84.00 82.60,88.00 81.70,92.00 81.10,98.50 80.10,102.00 78.10,103.40 75.80,102.40 73.80,101.50 72.80,99.40 71.10,101.50 70.80,104.20 73.80,105.30 76.20,105.60 78.70,106.30 75.80,108.00 74.90,112.30 77.10,111.20 79.50,111.20 81.90,111.70 79.70,114.40 83.00,121.40" fill="none" stroke="#ff0000" stroke-width="1.2" stroke-linejoin="round" stroke-linecap="round" />
<g fill="#fff" stroke="#ff0000" stroke-width="1.15"><circle cx="120.80" cy="98.70" r="1.75"/><circle cx="120.01" cy="97.66" r="1.75"/><circle cx="119.23" cy="96.63" r="1.75"/><circle cx="118.44" cy="95.59" r="1.75"/><circle cx="117.81" cy="94.46" r="1.75"/><circle cx="117.22" cy="93.30" r="1.75"/><circle cx="116.63" cy="92.14" r="1.75"/><circle cx="116.09" cy="90.96" r="1.75"/><circle cx="115.54" cy="89.78" r="1.75"/><circle cx="115.00" cy="88.60" r="1.75"/><circle cx="114.26" cy="87.53" r="1.75"/><circle cx="113.52" cy="86.46" r="1.75"/><circle cx="112.51" cy="85.75" r="1.75"/><circle cx="111.28" cy="85.31" r="1.75"/><circle cx="110.04" cy="85.03" r="1.75"/><circle cx="108.74" cy="85.14" r="1.75"/><circle cx="107.45" cy="85.25" r="1.75"/><circle cx="106.20" cy="85.55" r="1.75"/><circle cx="105.00" cy="86.05" r="1.75"/><circle cx="103.80" cy="86.55" r="1.75"/><circle cx="102.67" cy="86.42" r="1.75"/><circle cx="101.62" cy="85.66" r="1.75"/></g>
<g fill="#fff" stroke="#ff0000" stroke-width="1.35"><circle cx="100.70" cy="85.00" r="1.7"/><circle cx="100.00" cy="74.60" r="1.7"/><circle cx="98.30" cy="64.80" r="1.7"/><circle cx="97.70" cy="61.90" r="1.7"/><circle cx="96.80" cy="59.00" r="1.7"/><circle cx="95.80" cy="57.40" r="1.7"/><circle cx="94.70" cy="56.60" r="1.7"/><circle cx="93.50" cy="57.40" r="1.7"/><circle cx="92.40" cy="58.90" r="1.7"/><circle cx="91.40" cy="62.70" r="1.7"/><circle cx="90.00" cy="65.90" r="1.7"/><circle cx="89.00" cy="68.80" r="1.7"/><circle cx="87.10" cy="75.40" r="1.7"/><circle cx="84.20" cy="80.60" r="1.7"/><circle cx="83.70" cy="84.00" r="1.7"/><circle cx="82.60" cy="88.00" r="1.7"/><circle cx="81.70" cy="92.00" r="1.7"/><circle cx="81.10" cy="98.50" r="1.7"/><circle cx="80.10" cy="102.00" r="1.7"/><circle cx="78.10" cy="103.40" r="1.7"/><circle cx="75.80" cy="102.40" r="1.7"/><circle cx="73.80" cy="101.50" r="1.7"/><circle cx="72.80" cy="99.40" r="1.7"/><circle cx="71.10" cy="101.50" r="1.7"/><circle cx="70.80" cy="104.20" r="1.7"/><circle cx="73.80" cy="105.30" r="1.7"/><circle cx="76.20" cy="105.60" r="1.7"/><circle cx="78.70" cy="106.30" r="1.7"/><circle cx="75.80" cy="108.00" r="1.7"/><circle cx="74.90" cy="112.30" r="1.7"/><circle cx="77.10" cy="111.20" r="1.7"/><circle cx="79.50" cy="111.20" r="1.7"/><circle cx="81.90" cy="111.70" r="1.7"/><circle cx="79.70" cy="114.40" r="1.7"/><circle cx="83.00" cy="121.40" r="1.7"/></g>
<polyline points="177.00,168.00 180.20,167.50 183.40,167.00 186.60,166.40 189.80,165.70 193.00,164.90 196.20,164.10 199.00,163.20 202.20,162.10 205.40,160.50 208.60,159.20 211.80,157.30 214.90,155.70 217.80,153.80 221.00,151.40 224.20,148.70 227.40,146.00 230.70,142.20 233.90,139.00 237.10,135.80 240.40,131.50 243.50,121.50 246.30,108.90 249.60,80.80 252.40,63.60 255.30,50.20 261.80,50.20" fill="none" stroke="#333" stroke-width="0.8" stroke-linejoin="round" stroke-linecap="round" />
<polyline points="261.80,50.20 249.60,50.20 249.60,53.10 246.20,60.70 243.30,67.90 240.50,74.40 237.10,81.10 233.80,87.50 230.60,92.90 227.00,98.30 224.20,104.10 220.90,110.20 217.70,115.10 214.50,120.50 211.30,125.50 208.70,130.00 205.70,134.50 202.10,138.60 199.10,143.10 195.60,147.60 192.60,151.30 189.10,154.90 186.10,158.20 183.00,161.20 180.00,164.20" fill="none" stroke="#333" stroke-width="0.7" stroke-linejoin="round" stroke-linecap="round" />
<g fill="#fff" stroke="#000000" stroke-width="1.15"><circle cx="180.20" cy="167.50" r="1.6"/><circle cx="183.40" cy="167.00" r="1.6"/><circle cx="186.60" cy="166.40" r="1.6"/><circle cx="189.80" cy="165.70" r="1.6"/><circle cx="193.00" cy="164.90" r="1.6"/><circle cx="196.20" cy="164.10" r="1.6"/><circle cx="199.00" cy="163.20" r="1.6"/><circle cx="202.20" cy="162.10" r="1.6"/><circle cx="205.40" cy="160.50" r="1.6"/><circle cx="208.60" cy="159.20" r="1.6"/><circle cx="211.80" cy="157.30" r="1.6"/><circle cx="214.90" cy="155.70" r="1.6"/><circle cx="217.80" cy="153.80" r="1.6"/><circle cx="221.00" cy="151.40" r="1.6"/><circle cx="224.20" cy="148.70" r="1.6"/><circle cx="227.40" cy="146.00" r="1.6"/><circle cx="230.70" cy="142.20" r="1.6"/><circle cx="233.90" cy="139.00" r="1.6"/><circle cx="237.10" cy="135.80" r="1.6"/><circle cx="240.40" cy="131.50" r="1.6"/><circle cx="243.50" cy="121.50" r="1.6"/><circle cx="246.30" cy="108.90" r="1.6"/><circle cx="249.60" cy="80.80" r="1.6"/><circle cx="252.40" cy="63.60" r="1.6"/></g>
<g fill="#fff" stroke="#000000" stroke-width="1.15"><circle cx="255.30" cy="50.20" r="1.6"/><circle cx="258.60" cy="50.20" r="1.6"/><circle cx="261.80" cy="50.20" r="1.6"/><circle cx="252.20" cy="50.20" r="1.6"/></g>
<g fill="#fff" stroke="#000000" stroke-width="1.15"><circle cx="249.60" cy="53.10" r="1.6"/><circle cx="246.20" cy="60.70" r="1.6"/><circle cx="243.30" cy="67.90" r="1.6"/><circle cx="240.50" cy="74.40" r="1.6"/><circle cx="237.10" cy="81.10" r="1.6"/><circle cx="233.80" cy="87.50" r="1.6"/><circle cx="230.60" cy="92.90" r="1.6"/><circle cx="227.00" cy="98.30" r="1.6"/><circle cx="224.20" cy="104.10" r="1.6"/><circle cx="220.90" cy="110.20" r="1.6"/><circle cx="217.70" cy="115.10" r="1.6"/><circle cx="214.50" cy="120.50" r="1.6"/><circle cx="211.30" cy="125.50" r="1.6"/><circle cx="208.70" cy="130.00" r="1.6"/><circle cx="205.70" cy="134.50" r="1.6"/><circle cx="202.10" cy="138.60" r="1.6"/><circle cx="199.10" cy="143.10" r="1.6"/><circle cx="195.60" cy="147.60" r="1.6"/><circle cx="192.60" cy="151.30" r="1.6"/><circle cx="189.10" cy="154.90" r="1.6"/><circle cx="186.10" cy="158.20" r="1.6"/><circle cx="183.00" cy="161.20" r="1.6"/><circle cx="180.00" cy="164.20" r="1.6"/></g>
<polyline points="177.00,168.00 180.20,167.60 183.40,167.20 186.60,166.70 189.80,166.10 193.00,165.40 196.20,164.60 199.40,163.90 202.20,163.50 205.40,162.90 208.60,162.10 211.80,161.60 214.90,160.80 217.80,160.00 221.00,159.20 224.20,158.40 227.40,157.30 230.70,156.20 233.70,154.20 236.80,152.30 240.00,149.60 243.20,147.30 246.30,144.50 249.60,142.00 252.90,137.60 256.10,128.00 259.20,111.20 263.00,83.50 265.20,50.20 292.00,50.20" fill="none" stroke="#ff0000" stroke-width="0.9" stroke-linejoin="round" stroke-linecap="round" />
<polyline points="271.60,53.10 268.70,56.40 265.40,64.10 262.50,69.40 259.10,77.00 255.80,80.80 252.20,85.60 248.50,89.70 244.60,96.20 241.40,101.50 237.70,105.80 234.90,110.20 231.70,114.50 228.50,118.80 225.20,123.10 222.00,127.00 218.30,130.60 214.90,134.90 211.20,138.60 208.00,142.50 204.80,145.70 201.50,148.90 198.30,152.20 195.10,155.40 191.80,158.00 188.60,160.80 185.40,163.40 182.20,165.70 179.60,167.00" fill="none" stroke="#ff0000" stroke-width="0.8" stroke-linejoin="round" stroke-linecap="round" />
<g fill="#fff" stroke="#ff0000" stroke-width="1.15"><circle cx="180.20" cy="167.60" r="1.6"/><circle cx="183.40" cy="167.20" r="1.6"/><circle cx="186.60" cy="166.70" r="1.6"/><circle cx="189.80" cy="166.10" r="1.6"/><circle cx="193.00" cy="165.40" r="1.6"/><circle cx="196.20" cy="164.60" r="1.6"/><circle cx="199.40" cy="163.90" r="1.6"/><circle cx="202.20" cy="163.50" r="1.6"/><circle cx="205.40" cy="162.90" r="1.6"/><circle cx="208.60" cy="162.10" r="1.6"/><circle cx="211.80" cy="161.60" r="1.6"/><circle cx="214.90" cy="160.80" r="1.6"/><circle cx="217.80" cy="160.00" r="1.6"/><circle cx="221.00" cy="159.20" r="1.6"/><circle cx="224.20" cy="158.40" r="1.6"/><circle cx="227.40" cy="157.30" r="1.6"/><circle cx="230.70" cy="156.20" r="1.6"/><circle cx="233.70" cy="154.20" r="1.6"/><circle cx="236.80" cy="152.30" r="1.6"/><circle cx="240.00" cy="149.60" r="1.6"/><circle cx="243.20" cy="147.30" r="1.6"/><circle cx="246.30" cy="144.50" r="1.6"/><circle cx="249.60" cy="142.00" r="1.6"/><circle cx="252.90" cy="137.60" r="1.6"/><circle cx="256.10" cy="128.00" r="1.6"/><circle cx="259.20" cy="111.20" r="1.6"/><circle cx="263.00" cy="83.50" r="1.6"/><circle cx="265.20" cy="50.20" r="1.6"/></g>
<g fill="#fff" stroke="#ff0000" stroke-width="1.15"><circle cx="265.20" cy="50.20" r="1.6"/><circle cx="268.55" cy="50.20" r="1.6"/><circle cx="271.90" cy="50.20" r="1.6"/><circle cx="275.25" cy="50.20" r="1.6"/><circle cx="278.60" cy="50.20" r="1.6"/><circle cx="281.95" cy="50.20" r="1.6"/><circle cx="285.30" cy="50.20" r="1.6"/><circle cx="288.65" cy="50.20" r="1.6"/><circle cx="292.00" cy="50.20" r="1.6"/></g>
<g fill="#fff" stroke="#ff0000" stroke-width="1.15"><circle cx="270.25" cy="50.90" r="1.6"/><circle cx="273.60" cy="50.90" r="1.6"/><circle cx="276.95" cy="50.90" r="1.6"/><circle cx="280.30" cy="50.90" r="1.6"/><circle cx="283.65" cy="50.90" r="1.6"/><circle cx="287.00" cy="50.90" r="1.6"/><circle cx="290.35" cy="50.90" r="1.6"/></g>
<g fill="#fff" stroke="#ff0000" stroke-width="1.15"><circle cx="271.60" cy="53.10" r="1.6"/><circle cx="268.70" cy="56.40" r="1.6"/><circle cx="265.40" cy="64.10" r="1.6"/><circle cx="262.50" cy="69.40" r="1.6"/><circle cx="259.10" cy="77.00" r="1.6"/><circle cx="255.80" cy="80.80" r="1.6"/><circle cx="252.20" cy="85.60" r="1.6"/><circle cx="248.50" cy="89.70" r="1.6"/><circle cx="244.60" cy="96.20" r="1.6"/><circle cx="241.40" cy="101.50" r="1.6"/><circle cx="237.70" cy="105.80" r="1.6"/><circle cx="234.90" cy="110.20" r="1.6"/><circle cx="231.70" cy="114.50" r="1.6"/><circle cx="228.50" cy="118.80" r="1.6"/><circle cx="225.20" cy="123.10" r="1.6"/><circle cx="222.00" cy="127.00" r="1.6"/><circle cx="218.30" cy="130.60" r="1.6"/><circle cx="214.90" cy="134.90" r="1.6"/><circle cx="211.20" cy="138.60" r="1.6"/><circle cx="208.00" cy="142.50" r="1.6"/><circle cx="204.80" cy="145.70" r="1.6"/><circle cx="201.50" cy="148.90" r="1.6"/><circle cx="198.30" cy="152.20" r="1.6"/><circle cx="195.10" cy="155.40" r="1.6"/><circle cx="191.80" cy="158.00" r="1.6"/><circle cx="188.60" cy="160.80" r="1.6"/><circle cx="185.40" cy="163.40" r="1.6"/><circle cx="182.20" cy="165.70" r="1.6"/><circle cx="179.60" cy="167.00" r="1.6"/></g>
<rect x="301.70" y="4.80" width="232.60" height="67.40" fill="#000" stroke="none" stroke-width="1.0" />
<line x1="301.70" y1="92.20" x2="534.30" y2="92.20" stroke="#9a9a9a" stroke-width="1.0" />
<line x1="301.70" y1="111.70" x2="534.30" y2="111.70" stroke="#9a9a9a" stroke-width="1.0" />
<line x1="301.70" y1="131.40" x2="534.30" y2="131.40" stroke="#9a9a9a" stroke-width="1.0" />
<line x1="301.70" y1="158.70" x2="534.30" y2="158.70" stroke="#9a9a9a" stroke-width="1.0" />
<line x1="301.70" y1="178.00" x2="534.30" y2="178.00" stroke="#9a9a9a" stroke-width="1.0" />
<line x1="301.70" y1="72.00" x2="301.70" y2="178.50" stroke="#9a9a9a" stroke-width="1.0" />
<line x1="534.30" y1="72.00" x2="534.30" y2="178.50" stroke="#9a9a9a" stroke-width="1.0" />
<text x="347.80" y="19.20" font-size="11" font-weight="bold" text-anchor="middle" fill="#fff" >SET</text>
<text x="347.80" y="34.60" font-size="11" font-weight="bold" text-anchor="middle" fill="#fff" >Compliance</text>
<text x="347.80" y="50.30" font-size="11" font-weight="bold" text-anchor="middle" fill="#fff" >Current Limit</text>
<text x="347.80" y="66.10" font-size="11" font-weight="bold" text-anchor="middle" fill="#fff" >(CCL) (μA)</text>
<text x="423.30" y="19.20" font-size="11" font-weight="bold" text-anchor="middle" fill="#fff" >NL-H6</text>
<text x="492.60" y="19.20" font-size="11" font-weight="bold" text-anchor="middle" fill="#fff" >NL-H6S3</text>
<text x="347.80" y="86.40" font-size="12" font-weight="bold" text-anchor="middle" fill="#000" >200</text>
<text x="422.30" y="86.40" font-size="12" font-weight="bold" text-anchor="middle" fill="#000" >6.533</text>
<text x="492.30" y="86.40" font-size="12" font-weight="bold" text-anchor="middle" fill="#000" >7.112</text>
<text x="347.80" y="106.00" font-size="12" font-weight="bold" text-anchor="middle" fill="#000" >300</text>
<text x="422.30" y="106.00" font-size="12" font-weight="bold" text-anchor="middle" fill="#000" >3.550</text>
<text x="492.30" y="106.00" font-size="12" font-weight="bold" text-anchor="middle" fill="#000" >8.305</text>
<text x="347.80" y="125.60" font-size="12" font-weight="bold" text-anchor="middle" fill="#000" >400</text>
<text x="422.30" y="125.60" font-size="12" font-weight="bold" text-anchor="middle" fill="#000" >4.560</text>
<text x="492.30" y="125.60" font-size="12" font-weight="bold" text-anchor="middle" fill="#000" >16.433</text>
<text x="347.80" y="145.90" font-size="12" font-weight="bold" text-anchor="middle" fill="#000" >800</text>
<text x="422.30" y="145.90" font-size="12" font-weight="bold" text-anchor="middle" fill="#000" >N/A</text>
<text x="492.30" y="145.90" font-size="12" font-weight="bold" text-anchor="middle" fill="#000" >3.567</text>
<text x="347.80" y="172.70" font-size="12" font-weight="bold" text-anchor="middle" fill="#000" >1000</text>
<text x="422.30" y="172.70" font-size="12" font-weight="bold" text-anchor="middle" fill="#000" >N/A</text>
<text x="492.30" y="172.70" font-size="12" font-weight="bold" text-anchor="middle" fill="#000" >3.503</text>
<text x="20.90" y="227.60" font-size="17.4" font-weight="bold" text-anchor="start" fill="#000" >(b)</text>
<rect x="52.50" y="237.30" width="96.50" height="135.10" fill="none" stroke="#222" stroke-width="1.2" />
<line x1="52.50" y1="365.96" x2="54.70" y2="365.96" stroke="#222" stroke-width="1.0" />
<line x1="149.00" y1="365.96" x2="146.80" y2="365.96" stroke="#222" stroke-width="1.0" />
<line x1="52.50" y1="359.52" x2="54.70" y2="359.52" stroke="#222" stroke-width="1.0" />
<line x1="149.00" y1="359.52" x2="146.80" y2="359.52" stroke="#222" stroke-width="1.0" />
<line x1="52.50" y1="353.08" x2="54.70" y2="353.08" stroke="#222" stroke-width="1.0" />
<line x1="149.00" y1="353.08" x2="146.80" y2="353.08" stroke="#222" stroke-width="1.0" />
<line x1="52.50" y1="346.64" x2="54.70" y2="346.64" stroke="#222" stroke-width="1.0" />
<line x1="149.00" y1="346.64" x2="146.80" y2="346.64" stroke="#222" stroke-width="1.0" />
<line x1="52.50" y1="340.20" x2="55.70" y2="340.20" stroke="#222" stroke-width="1.0" />
<line x1="52.50" y1="333.76" x2="54.70" y2="333.76" stroke="#222" stroke-width="1.0" />
<line x1="149.00" y1="333.76" x2="146.80" y2="333.76" stroke="#222" stroke-width="1.0" />
<line x1="52.50" y1="327.32" x2="54.70" y2="327.32" stroke="#222" stroke-width="1.0" />
<line x1="149.00" y1="327.32" x2="146.80" y2="327.32" stroke="#222" stroke-width="1.0" />
<line x1="52.50" y1="320.88" x2="54.70" y2="320.88" stroke="#222" stroke-width="1.0" />
<line x1="149.00" y1="320.88" x2="146.80" y2="320.88" stroke="#222" stroke-width="1.0" />
<line x1="52.50" y1="314.44" x2="54.70" y2="314.44" stroke="#222" stroke-width="1.0" />
<line x1="149.00" y1="314.44" x2="146.80" y2="314.44" stroke="#222" stroke-width="1.0" />
<line x1="52.50" y1="308.00" x2="55.70" y2="308.00" stroke="#222" stroke-width="1.0" />
<line x1="52.50" y1="301.56" x2="54.70" y2="301.56" stroke="#222" stroke-width="1.0" />
<line x1="149.00" y1="301.56" x2="146.80" y2="301.56" stroke="#222" stroke-width="1.0" />
<line x1="52.50" y1="295.12" x2="54.70" y2="295.12" stroke="#222" stroke-width="1.0" />
<line x1="149.00" y1="295.12" x2="146.80" y2="295.12" stroke="#222" stroke-width="1.0" />
<line x1="52.50" y1="288.68" x2="54.70" y2="288.68" stroke="#222" stroke-width="1.0" />
<line x1="149.00" y1="288.68" x2="146.80" y2="288.68" stroke="#222" stroke-width="1.0" />
<line x1="52.50" y1="282.24" x2="54.70" y2="282.24" stroke="#222" stroke-width="1.0" />
<line x1="149.00" y1="282.24" x2="146.80" y2="282.24" stroke="#222" stroke-width="1.0" />
<line x1="52.50" y1="275.80" x2="55.70" y2="275.80" stroke="#222" stroke-width="1.0" />
<line x1="52.50" y1="269.36" x2="54.70" y2="269.36" stroke="#222" stroke-width="1.0" />
<line x1="149.00" y1="269.36" x2="146.80" y2="269.36" stroke="#222" stroke-width="1.0" />
<line x1="52.50" y1="262.92" x2="54.70" y2="262.92" stroke="#222" stroke-width="1.0" />
<line x1="149.00" y1="262.92" x2="146.80" y2="262.92" stroke="#222" stroke-width="1.0" />
<line x1="52.50" y1="256.48" x2="54.70" y2="256.48" stroke="#222" stroke-width="1.0" />
<line x1="149.00" y1="256.48" x2="146.80" y2="256.48" stroke="#222" stroke-width="1.0" />
<line x1="52.50" y1="250.04" x2="54.70" y2="250.04" stroke="#222" stroke-width="1.0" />
<line x1="149.00" y1="250.04" x2="146.80" y2="250.04" stroke="#222" stroke-width="1.0" />
<line x1="52.50" y1="243.60" x2="55.70" y2="243.60" stroke="#222" stroke-width="1.0" />
<text x="44.80" y="376.70" font-size="12" font-weight="bold" text-anchor="end" fill="#000" >0</text>
<text x="44.80" y="344.50" font-size="12" font-weight="bold" text-anchor="end" fill="#000" >10</text>
<text x="44.80" y="312.30" font-size="12" font-weight="bold" text-anchor="end" fill="#000" >20</text>
<text x="44.80" y="280.10" font-size="12" font-weight="bold" text-anchor="end" fill="#000" >30</text>
<text x="44.80" y="247.90" font-size="12" font-weight="bold" text-anchor="end" fill="#000" >40</text>
<line x1="68.40" y1="372.40" x2="68.40" y2="369.00" stroke="#222" stroke-width="1.0" />
<line x1="84.50" y1="372.40" x2="84.50" y2="369.00" stroke="#222" stroke-width="1.0" />
<line x1="100.50" y1="372.40" x2="100.50" y2="369.00" stroke="#222" stroke-width="1.0" />
<line x1="116.50" y1="372.40" x2="116.50" y2="369.00" stroke="#222" stroke-width="1.0" />
<line x1="132.70" y1="372.40" x2="132.70" y2="369.00" stroke="#222" stroke-width="1.0" />
<rect x="62.90" y="320.50" width="10.00" height="19.90" fill="#ff0000" stroke="none" stroke-width="1.0" />
<line x1="62.90" y1="331.10" x2="72.90" y2="331.10" stroke="#3a0000" stroke-width="1.35" />
<rect x="79.70" y="348.60" width="9.60" height="5.10" fill="#ff0000" stroke="none" stroke-width="1.0" />
<line x1="79.70" y1="350.80" x2="89.30" y2="350.80" stroke="#3a0000" stroke-width="1.35" />
<rect x="95.20" y="338.10" width="9.90" height="17.00" fill="#ff0000" stroke="none" stroke-width="1.0" />
<line x1="95.20" y1="347.50" x2="105.10" y2="347.50" stroke="#3a0000" stroke-width="1.35" />
<rect x="111.60" y="352.80" width="9.90" height="8.80" fill="#ff0000" stroke="none" stroke-width="1.0" />
<line x1="111.60" y1="357.90" x2="121.50" y2="357.90" stroke="#3a0000" stroke-width="1.35" />
<rect x="128.00" y="263.20" width="9.90" height="44.50" fill="#ff0000" stroke="none" stroke-width="1.0" />
<line x1="128.00" y1="284.10" x2="137.90" y2="284.10" stroke="#3a0000" stroke-width="1.35" />
<text x="64.30" y="249.40" font-size="10.4" font-weight="bold" font-style="italic" text-anchor="start" fill="#000" >D2D Variability</text>
<text x="64.00" y="266.10" font-size="9.6" font-weight="bold" font-style="italic" text-anchor="start" fill="#000" >Median of</text>
<text x="64.30" y="276.70" font-size="9.6" font-weight="bold" font-style="italic" text-anchor="start" fill="#000" >15 devices</text>
<line x1="89.30" y1="281.50" x2="73.60" y2="328.40" stroke="#000" stroke-width="1.3" stroke-dasharray="4.5,2.6"/>
<line x1="73.60" y1="328.40" x2="77.41" y2="324.86" stroke="#000" stroke-width="1.6" stroke-linecap="round"/>
<line x1="73.60" y1="328.40" x2="72.68" y2="323.28" stroke="#000" stroke-width="1.6" stroke-linecap="round"/>
<text transform="translate(21.9,304) rotate(-90)" font-size="12.4" font-weight="bold" text-anchor="middle" fill="#000">Nonlinearity</text>
<text x="98.90" y="406.80" font-size="12.8" font-weight="bold" text-anchor="middle" fill="#000" >Device Structure</text>
<text transform="translate(54.80,379.00) rotate(30)" font-size="9.5" font-weight="bold" fill="#ff0000">H6S3</text>
<text transform="translate(48.50,388.30) rotate(30)" font-size="9.5" font-weight="bold" fill="#ff0000">(2X2)</text>
<text transform="translate(75.00,381.20) rotate(30)" font-size="9.5" font-weight="bold" fill="#000">H11S2</text>
<text transform="translate(91.50,380.70) rotate(30)" font-size="9.5" font-weight="bold" fill="#000">H4S9H4</text>
<text transform="translate(114.00,380.20) rotate(30)" font-size="9.5" font-weight="bold" fill="#000">H11</text>
<text transform="translate(130.50,380.20) rotate(30)" font-size="9.5" font-weight="bold" fill="#000">H4S9</text>
<rect x="189.20" y="237.30" width="94.80" height="134.00" fill="none" stroke="#333" stroke-width="1.1" />
<text x="183.60" y="375.60" font-size="12" font-weight="bold" text-anchor="end" fill="#000" >0</text>
<line x1="187.60" y1="333.13" x2="192.20" y2="333.13" stroke="#333" stroke-width="1.0" />
<text x="183.60" y="337.43" font-size="12" font-weight="bold" text-anchor="end" fill="#000" >10</text>
<line x1="187.60" y1="294.96" x2="192.20" y2="294.96" stroke="#333" stroke-width="1.0" />
<text x="183.60" y="299.26" font-size="12" font-weight="bold" text-anchor="end" fill="#000" >20</text>
<line x1="187.60" y1="256.79" x2="192.20" y2="256.79" stroke="#333" stroke-width="1.0" />
<text x="183.60" y="261.09" font-size="12" font-weight="bold" text-anchor="end" fill="#000" >30</text>
<line x1="205.30" y1="371.30" x2="205.30" y2="368.20" stroke="#444" stroke-width="1.0" />
<line x1="220.70" y1="371.30" x2="220.70" y2="368.20" stroke="#444" stroke-width="1.0" />
<line x1="236.50" y1="371.30" x2="236.50" y2="368.20" stroke="#444" stroke-width="1.0" />
<line x1="252.40" y1="371.30" x2="252.40" y2="368.20" stroke="#444" stroke-width="1.0" />
<line x1="268.20" y1="371.30" x2="268.20" y2="368.20" stroke="#444" stroke-width="1.0" />
<rect x="215.90" y="331.60" width="9.60" height="16.60" fill="#ff00ff" stroke="none" stroke-width="1.0" />
<line x1="215.90" y1="339.60" x2="225.50" y2="339.60" stroke="#5c0068" stroke-width="1.3" />
<rect x="231.90" y="332.00" width="9.30" height="10.60" fill="#ff00ff" stroke="none" stroke-width="1.0" />
<line x1="231.90" y1="337.80" x2="241.20" y2="337.80" stroke="#5c0068" stroke-width="1.3" />
<rect x="247.50" y="352.30" width="9.80" height="6.50" fill="#ff00ff" stroke="none" stroke-width="1.0" />
<line x1="247.50" y1="355.40" x2="257.30" y2="355.40" stroke="#5c0068" stroke-width="1.3" />
<rect x="263.50" y="274.00" width="9.50" height="38.80" fill="#ff00ff" stroke="none" stroke-width="1.0" />
<line x1="263.50" y1="289.00" x2="273.00" y2="289.00" stroke="#5c0068" stroke-width="1.3" />
<rect x="200.90" y="302.90" width="9.00" height="25.30" fill="#ff00ff" stroke="#b0002a" stroke-width="1.5" />
<line x1="200.90" y1="314.30" x2="209.90" y2="314.30" stroke="#5c0068" stroke-width="1.3" />
<text x="198.90" y="249.30" font-size="10.4" font-weight="bold" font-style="italic" text-anchor="start" fill="#000" >C2C Variability</text>
<text x="208.60" y="263.70" font-size="9.6" font-weight="bold" font-style="italic" text-anchor="start" fill="#000" >Median of</text>
<text x="208.90" y="275.40" font-size="9.6" font-weight="bold" font-style="italic" text-anchor="start" fill="#000" >30 cycles</text>
<line x1="233.30" y1="279.50" x2="212.80" y2="311.20" stroke="#000" stroke-width="1.3" stroke-dasharray="4.5,2.6"/>
<line x1="212.80" y1="311.20" x2="217.37" y2="308.72" stroke="#000" stroke-width="1.6" stroke-linecap="round"/>
<line x1="212.80" y1="311.20" x2="213.18" y2="306.01" stroke="#000" stroke-width="1.6" stroke-linecap="round"/>
<text transform="translate(163.9,304) rotate(-90)" font-size="12.4" font-weight="bold" text-anchor="middle" fill="#000">Nonlinearity</text>
<text x="233.80" y="408.40" font-size="12.8" font-weight="bold" text-anchor="middle" fill="#000" >Device Structure</text>
<text transform="translate(190.80,378.30) rotate(30)" font-size="9.5" font-weight="bold" fill="#ff0000">H6S3</text>
<text transform="translate(185.00,387.30) rotate(30)" font-size="9.5" font-weight="bold" fill="#ff0000">(2X2)</text>
<text transform="translate(210.50,379.20) rotate(30)" font-size="9.5" font-weight="bold" fill="#000">H11S2</text>
<text transform="translate(226.50,379.00) rotate(30)" font-size="9.5" font-weight="bold" fill="#000">H4S9H4</text>
<text transform="translate(249.50,378.50) rotate(30)" font-size="9.5" font-weight="bold" fill="#000">H11</text>
<text transform="translate(265.00,378.50) rotate(30)" font-size="9.5" font-weight="bold" fill="#000">H4S9</text>
<text x="293.40" y="227.30" font-size="17.4" font-weight="bold" text-anchor="start" fill="#000" >(c)</text>
<rect x="337.70" y="233.00" width="206.80" height="145.00" fill="none" stroke="#000" stroke-width="1.3" />
<line x1="337.70" y1="374.42" x2="339.70" y2="374.42" stroke="#000" stroke-width="0.9" />
<line x1="544.50" y1="374.42" x2="542.50" y2="374.42" stroke="#000" stroke-width="0.9" />
<line x1="337.70" y1="370.04" x2="339.70" y2="370.04" stroke="#000" stroke-width="0.9" />
<line x1="544.50" y1="370.04" x2="542.50" y2="370.04" stroke="#000" stroke-width="0.9" />
<line x1="337.70" y1="365.66" x2="339.70" y2="365.66" stroke="#000" stroke-width="0.9" />
<line x1="544.50" y1="365.66" x2="542.50" y2="365.66" stroke="#000" stroke-width="0.9" />
<line x1="337.70" y1="361.28" x2="339.70" y2="361.28" stroke="#000" stroke-width="0.9" />
<line x1="544.50" y1="361.28" x2="542.50" y2="361.28" stroke="#000" stroke-width="0.9" />
<line x1="337.70" y1="356.90" x2="340.90" y2="356.90" stroke="#000" stroke-width="0.9" />
<line x1="544.50" y1="356.90" x2="541.30" y2="356.90" stroke="#000" stroke-width="0.9" />
<line x1="337.70" y1="352.52" x2="339.70" y2="352.52" stroke="#000" stroke-width="0.9" />
<line x1="544.50" y1="352.52" x2="542.50" y2="352.52" stroke="#000" stroke-width="0.9" />
<line x1="337.70" y1="348.14" x2="339.70" y2="348.14" stroke="#000" stroke-width="0.9" />
<line x1="544.50" y1="348.14" x2="542.50" y2="348.14" stroke="#000" stroke-width="0.9" />
<line x1="337.70" y1="343.76" x2="339.70" y2="343.76" stroke="#000" stroke-width="0.9" />
<line x1="544.50" y1="343.76" x2="542.50" y2="343.76" stroke="#000" stroke-width="0.9" />
<line x1="337.70" y1="339.38" x2="339.70" y2="339.38" stroke="#000" stroke-width="0.9" />
<line x1="544.50" y1="339.38" x2="542.50" y2="339.38" stroke="#000" stroke-width="0.9" />
<line x1="337.70" y1="335.00" x2="340.90" y2="335.00" stroke="#000" stroke-width="0.9" />
<line x1="544.50" y1="335.00" x2="541.30" y2="335.00" stroke="#000" stroke-width="0.9" />
<line x1="337.70" y1="330.62" x2="339.70" y2="330.62" stroke="#000" stroke-width="0.9" />
<line x1="544.50" y1="330.62" x2="542.50" y2="330.62" stroke="#000" stroke-width="0.9" />
<line x1="337.70" y1="326.24" x2="339.70" y2="326.24" stroke="#000" stroke-width="0.9" />
<line x1="544.50" y1="326.24" x2="542.50" y2="326.24" stroke="#000" stroke-width="0.9" />
<line x1="337.70" y1="321.86" x2="339.70" y2="321.86" stroke="#000" stroke-width="0.9" />
<line x1="544.50" y1="321.86" x2="542.50" y2="321.86" stroke="#000" stroke-width="0.9" />
<line x1="337.70" y1="317.48" x2="339.70" y2="317.48" stroke="#000" stroke-width="0.9" />
<line x1="544.50" y1="317.48" x2="542.50" y2="317.48" stroke="#000" stroke-width="0.9" />
<line x1="337.70" y1="313.10" x2="340.90" y2="313.10" stroke="#000" stroke-width="0.9" />
<line x1="544.50" y1="313.10" x2="541.30" y2="313.10" stroke="#000" stroke-width="0.9" />
<line x1="337.70" y1="308.72" x2="339.70" y2="308.72" stroke="#000" stroke-width="0.9" />
<line x1="544.50" y1="308.72" x2="542.50" y2="308.72" stroke="#000" stroke-width="0.9" />
<line x1="337.70" y1="304.34" x2="339.70" y2="304.34" stroke="#000" stroke-width="0.9" />
<line x1="544.50" y1="304.34" x2="542.50" y2="304.34" stroke="#000" stroke-width="0.9" />
<line x1="337.70" y1="299.96" x2="339.70" y2="299.96" stroke="#000" stroke-width="0.9" />
<line x1="544.50" y1="299.96" x2="542.50" y2="299.96" stroke="#000" stroke-width="0.9" />
<line x1="337.70" y1="295.58" x2="339.70" y2="295.58" stroke="#000" stroke-width="0.9" />
<line x1="544.50" y1="295.58" x2="542.50" y2="295.58" stroke="#000" stroke-width="0.9" />
<line x1="337.70" y1="291.20" x2="340.90" y2="291.20" stroke="#000" stroke-width="0.9" />
<line x1="544.50" y1="291.20" x2="541.30" y2="291.20" stroke="#000" stroke-width="0.9" />
<line x1="337.70" y1="286.82" x2="339.70" y2="286.82" stroke="#000" stroke-width="0.9" />
<line x1="544.50" y1="286.82" x2="542.50" y2="286.82" stroke="#000" stroke-width="0.9" />
<line x1="337.70" y1="282.44" x2="339.70" y2="282.44" stroke="#000" stroke-width="0.9" />
<line x1="544.50" y1="282.44" x2="542.50" y2="282.44" stroke="#000" stroke-width="0.9" />
<line x1="337.70" y1="278.06" x2="339.70" y2="278.06" stroke="#000" stroke-width="0.9" />
<line x1="544.50" y1="278.06" x2="542.50" y2="278.06" stroke="#000" stroke-width="0.9" />
<line x1="337.70" y1="273.68" x2="339.70" y2="273.68" stroke="#000" stroke-width="0.9" />
<line x1="544.50" y1="273.68" x2="542.50" y2="273.68" stroke="#000" stroke-width="0.9" />
<line x1="337.70" y1="269.30" x2="340.90" y2="269.30" stroke="#000" stroke-width="0.9" />
<line x1="544.50" y1="269.30" x2="541.30" y2="269.30" stroke="#000" stroke-width="0.9" />
<line x1="337.70" y1="264.92" x2="339.70" y2="264.92" stroke="#000" stroke-width="0.9" />
<line x1="544.50" y1="264.92" x2="542.50" y2="264.92" stroke="#000" stroke-width="0.9" />
<line x1="337.70" y1="260.54" x2="339.70" y2="260.54" stroke="#000" stroke-width="0.9" />
<line x1="544.50" y1="260.54" x2="542.50" y2="260.54" stroke="#000" stroke-width="0.9" />
<line x1="337.70" y1="256.16" x2="339.70" y2="256.16" stroke="#000" stroke-width="0.9" />
<line x1="544.50" y1="256.16" x2="542.50" y2="256.16" stroke="#000" stroke-width="0.9" />
<line x1="337.70" y1="251.78" x2="339.70" y2="251.78" stroke="#000" stroke-width="0.9" />
<line x1="544.50" y1="251.78" x2="542.50" y2="251.78" stroke="#000" stroke-width="0.9" />
<line x1="337.70" y1="247.40" x2="340.90" y2="247.40" stroke="#000" stroke-width="0.9" />
<line x1="544.50" y1="247.40" x2="541.30" y2="247.40" stroke="#000" stroke-width="0.9" />
<line x1="337.70" y1="243.02" x2="339.70" y2="243.02" stroke="#000" stroke-width="0.9" />
<line x1="544.50" y1="243.02" x2="542.50" y2="243.02" stroke="#000" stroke-width="0.9" />
<line x1="337.70" y1="238.64" x2="339.70" y2="238.64" stroke="#000" stroke-width="0.9" />
<line x1="544.50" y1="238.64" x2="542.50" y2="238.64" stroke="#000" stroke-width="0.9" />
<line x1="337.70" y1="234.26" x2="339.70" y2="234.26" stroke="#000" stroke-width="0.9" />
<line x1="544.50" y1="234.26" x2="542.50" y2="234.26" stroke="#000" stroke-width="0.9" />
<text x="331.00" y="251.70" font-size="12.1" font-weight="bold" text-anchor="end" fill="#000" >1.5</text>
<text x="331.00" y="273.60" font-size="12.1" font-weight="bold" text-anchor="end" fill="#000" >1.0</text>
<text x="331.00" y="295.50" font-size="12.1" font-weight="bold" text-anchor="end" fill="#000" >0.5</text>
<text x="331.00" y="317.40" font-size="12.1" font-weight="bold" text-anchor="end" fill="#000" >0.0</text>
<text x="331.00" y="339.30" font-size="12.1" font-weight="bold" text-anchor="end" fill="#000" >-0.5</text>
<text x="331.00" y="361.20" font-size="12.1" font-weight="bold" text-anchor="end" fill="#000" >-1.0</text>
<text x="331.00" y="383.10" font-size="12.1" font-weight="bold" text-anchor="end" fill="#000" >-1.5</text>
<line x1="372.30" y1="233.00" x2="372.30" y2="236.00" stroke="#000" stroke-width="1.0" />
<line x1="372.30" y1="378.00" x2="372.30" y2="375.00" stroke="#000" stroke-width="1.0" />
<line x1="406.40" y1="233.00" x2="406.40" y2="236.00" stroke="#000" stroke-width="1.0" />
<line x1="406.40" y1="378.00" x2="406.40" y2="375.00" stroke="#000" stroke-width="1.0" />
<line x1="440.60" y1="233.00" x2="440.60" y2="236.00" stroke="#000" stroke-width="1.0" />
<line x1="440.60" y1="378.00" x2="440.60" y2="375.00" stroke="#000" stroke-width="1.0" />
<line x1="474.80" y1="233.00" x2="474.80" y2="236.00" stroke="#000" stroke-width="1.0" />
<line x1="474.80" y1="378.00" x2="474.80" y2="375.00" stroke="#000" stroke-width="1.0" />
<line x1="509.00" y1="233.00" x2="509.00" y2="236.00" stroke="#000" stroke-width="1.0" />
<line x1="509.00" y1="378.00" x2="509.00" y2="375.00" stroke="#000" stroke-width="1.0" />
<line x1="372.00" y1="252.40" x2="372.00" y2="254.50" stroke="#0000ff" stroke-width="1.2" />
<line x1="372.00" y1="261.10" x2="372.00" y2="263.20" stroke="#0000ff" stroke-width="1.2" />
<line x1="367.40" y1="253.00" x2="376.60" y2="253.00" stroke="#0000ff" stroke-width="1.4" />
<line x1="367.40" y1="262.60" x2="376.60" y2="262.60" stroke="#0000ff" stroke-width="1.4" />
<rect x="361.95" y="255.25" width="19.90" height="5.10" fill="#fff" stroke="#0000ff" stroke-width="1.5" />
<line x1="361.95" y1="256.90" x2="381.85" y2="256.90" stroke="#0000ff" stroke-width="1.3" />
<line x1="406.40" y1="259.10" x2="406.40" y2="261.20" stroke="#0000ff" stroke-width="1.2" />
<line x1="406.40" y1="266.60" x2="406.40" y2="269.00" stroke="#0000ff" stroke-width="1.2" />
<line x1="401.90" y1="259.70" x2="410.90" y2="259.70" stroke="#0000ff" stroke-width="1.4" />
<line x1="401.90" y1="268.40" x2="410.90" y2="268.40" stroke="#0000ff" stroke-width="1.4" />
<rect x="396.05" y="261.95" width="20.60" height="3.90" fill="#fff" stroke="#0000ff" stroke-width="1.5" />
<line x1="441.20" y1="258.20" x2="441.20" y2="262.20" stroke="#0000ff" stroke-width="1.2" />
<line x1="441.20" y1="266.40" x2="441.20" y2="268.70" stroke="#0000ff" stroke-width="1.2" />
<line x1="436.45" y1="258.80" x2="445.95" y2="258.80" stroke="#0000ff" stroke-width="1.4" />
<line x1="436.45" y1="268.10" x2="445.95" y2="268.10" stroke="#0000ff" stroke-width="1.4" />
<rect x="430.85" y="262.95" width="20.80" height="2.70" fill="#fff" stroke="#0000ff" stroke-width="1.5" />
<line x1="430.85" y1="264.30" x2="451.65" y2="264.30" stroke="#0000ff" stroke-width="1.3" />
<line x1="475.90" y1="255.70" x2="475.90" y2="259.00" stroke="#0000ff" stroke-width="1.2" />
<line x1="475.90" y1="265.00" x2="475.90" y2="270.00" stroke="#0000ff" stroke-width="1.2" />
<line x1="472.20" y1="256.30" x2="479.60" y2="256.30" stroke="#0000ff" stroke-width="1.4" />
<line x1="472.20" y1="269.40" x2="479.60" y2="269.40" stroke="#0000ff" stroke-width="1.4" />
<rect x="465.85" y="259.75" width="20.10" height="4.50" fill="#fff" stroke="#0000ff" stroke-width="1.5" />
<line x1="465.85" y1="261.90" x2="485.95" y2="261.90" stroke="#0000ff" stroke-width="1.3" />
<line x1="510.70" y1="255.20" x2="510.70" y2="260.20" stroke="#0000ff" stroke-width="1.2" />
<line x1="510.70" y1="270.70" x2="510.70" y2="274.70" stroke="#0000ff" stroke-width="1.2" />
<line x1="506.20" y1="255.80" x2="515.20" y2="255.80" stroke="#0000ff" stroke-width="1.4" />
<line x1="506.20" y1="274.10" x2="515.20" y2="274.10" stroke="#0000ff" stroke-width="1.4" />
<rect x="500.55" y="260.95" width="19.60" height="9.00" fill="#fff" stroke="#0000ff" stroke-width="1.5" />
<line x1="500.55" y1="267.20" x2="520.15" y2="267.20" stroke="#0000ff" stroke-width="1.3" />
<line x1="372.00" y1="348.70" x2="372.00" y2="351.10" stroke="#ff0000" stroke-width="1.2" />
<line x1="372.00" y1="356.60" x2="372.00" y2="360.20" stroke="#ff0000" stroke-width="1.2" />
<line x1="367.50" y1="349.30" x2="376.50" y2="349.30" stroke="#ff0000" stroke-width="1.4" />
<line x1="367.50" y1="359.60" x2="376.50" y2="359.60" stroke="#ff0000" stroke-width="1.4" />
<rect x="361.85" y="351.85" width="20.10" height="4.00" fill="#fff" stroke="#ff0000" stroke-width="1.5" />
<line x1="361.85" y1="353.90" x2="381.95" y2="353.90" stroke="#ff0000" stroke-width="1.3" />
<line x1="406.60" y1="354.00" x2="406.60" y2="354.00" stroke="#ff0000" stroke-width="1.2" />
<line x1="406.60" y1="361.90" x2="406.60" y2="362.50" stroke="#ff0000" stroke-width="1.2" />
<line x1="402.10" y1="354.60" x2="411.10" y2="354.60" stroke="#ff0000" stroke-width="1.4" />
<line x1="402.10" y1="361.90" x2="411.10" y2="361.90" stroke="#ff0000" stroke-width="1.4" />
<rect x="396.45" y="354.75" width="20.80" height="6.40" fill="#fff" stroke="#ff0000" stroke-width="1.5" />
<line x1="396.45" y1="360.60" x2="417.25" y2="360.60" stroke="#ff0000" stroke-width="1.3" />
<line x1="441.20" y1="333.70" x2="441.20" y2="333.70" stroke="#ff0000" stroke-width="1.2" />
<line x1="441.20" y1="337.80" x2="441.20" y2="338.60" stroke="#ff0000" stroke-width="1.2" />
<line x1="436.45" y1="334.30" x2="445.95" y2="334.30" stroke="#ff0000" stroke-width="1.4" />
<line x1="436.45" y1="338.00" x2="445.95" y2="338.00" stroke="#ff0000" stroke-width="1.4" />
<rect x="430.95" y="334.45" width="20.60" height="2.60" fill="#fff" stroke="#ff0000" stroke-width="1.5" />
<line x1="430.95" y1="335.80" x2="451.55" y2="335.80" stroke="#ff0000" stroke-width="1.3" />
<line x1="475.60" y1="350.30" x2="475.60" y2="351.50" stroke="#ff0000" stroke-width="1.2" />
<line x1="475.60" y1="356.30" x2="475.60" y2="361.20" stroke="#ff0000" stroke-width="1.2" />
<line x1="470.80" y1="350.90" x2="480.40" y2="350.90" stroke="#ff0000" stroke-width="1.4" />
<line x1="470.80" y1="360.60" x2="480.40" y2="360.60" stroke="#ff0000" stroke-width="1.4" />
<rect x="465.85" y="352.25" width="19.90" height="3.30" fill="#fff" stroke="#ff0000" stroke-width="1.5" />
<line x1="465.85" y1="354.00" x2="485.75" y2="354.00" stroke="#ff0000" stroke-width="1.3" />
<line x1="510.00" y1="338.30" x2="510.00" y2="340.00" stroke="#ff0000" stroke-width="1.2" />
<line x1="510.00" y1="346.70" x2="510.00" y2="349.80" stroke="#ff0000" stroke-width="1.2" />
<line x1="505.25" y1="338.90" x2="514.75" y2="338.90" stroke="#ff0000" stroke-width="1.4" />
<line x1="505.25" y1="349.20" x2="514.75" y2="349.20" stroke="#ff0000" stroke-width="1.4" />
<rect x="500.25" y="340.75" width="20.40" height="5.20" fill="#fff" stroke="#ff0000" stroke-width="1.5" />
<text x="360.40" y="281.60" font-size="13" font-weight="bold" text-anchor="start" fill="#0000ff" >SET</text>
<text x="361.00" y="340.90" font-size="13.2" font-weight="bold" text-anchor="start" fill="#ff0000" >RESET</text>
<text transform="translate(301.2,303.5) rotate(-90)" font-size="14" font-weight="bold" text-anchor="middle" fill="#000">Voltage (V)</text>
<text transform="translate(365.20,391.50) rotate(30)" font-size="11.5" font-weight="bold" fill="#000">H11</text>
<text transform="translate(392.70,390.50) rotate(30)" font-size="11.5" font-weight="bold" fill="#000">H11S2</text>
<text transform="translate(430.70,390.50) rotate(30)" font-size="11.5" font-weight="bold" fill="#ff0000">H6S3</text>
<text transform="translate(469.20,392.00) rotate(30)" font-size="11.5" font-weight="bold" fill="#000">H4S9</text>
<text transform="translate(497.70,389.50) rotate(30)" font-size="11.5" font-weight="bold" fill="#000">H4S9H4</text>
</svg>
</body></html>
